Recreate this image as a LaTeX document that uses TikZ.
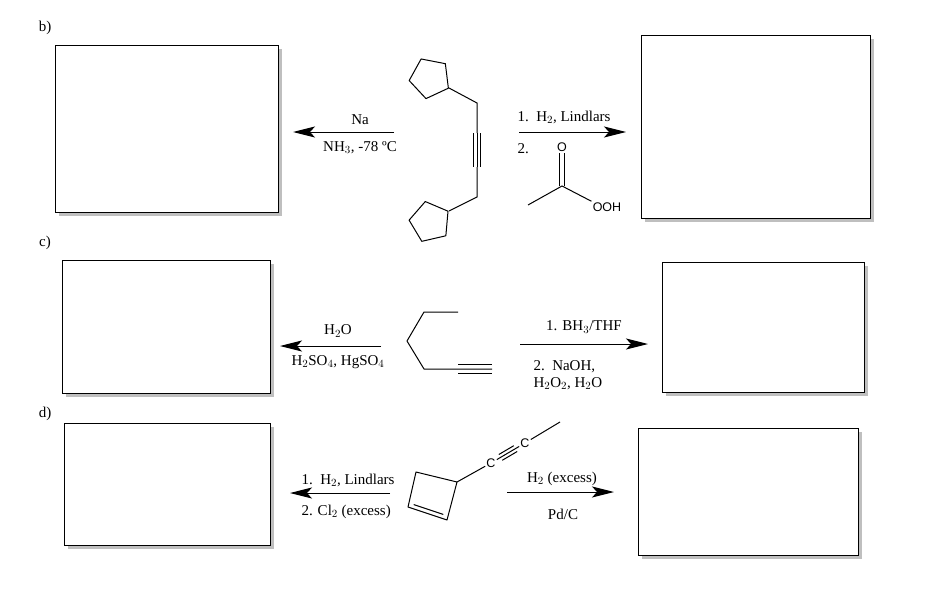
\documentclass[tikz,border=0pt]{standalone}
\usepackage{fontspec}
\setmainfont{Liberation Serif}
\newfontfamily\lsans{Liberation Sans}
\usetikzlibrary{arrows.meta,calc}
\begin{document}
\begin{tikzpicture}[x=1pt,y=-1pt,line width=1pt,
  box/.style={draw=black,fill=white,line width=0.9pt},
  rx/.style={-{Stealth[length=22pt,width=11pt,inset=5pt]},line width=1pt},
  lab/.style={font=\fontsize{15}{17}\selectfont,inner sep=1pt},
  atom/.style={font=\lsans\fontsize{12.5}{14}\selectfont,inner sep=0.8pt,fill=white}]
\useasboundingbox (0,0) rectangle (950,602);
\newcommand{\shbox}[5]{%
  \fill[black!25] (#1+4,#2+4) rectangle (#3+4,#4+4);
  \draw[box] (#1,#2) rectangle (#3,#4) node[pos=0.5,draw=none,fill=none] (#5) {};}
\node[lab] (lb) at (45,28) {b)};
\node[lab] (lc) at (45,243) {c)};
\node[lab] (ld) at (45,414) {d)};
\shbox{55}{45}{278}{212}{B1}
\shbox{641}{35}{870}{218}{B2}
\shbox{62}{260}{270}{393}{C1}
\shbox{662}{262}{864}{392}{C2}
\shbox{64}{423}{270}{545}{D1}
\shbox{638}{428}{858}{555}{D2}
% ---------- b
\coordinate (bl1) at (394,132); \coordinate (bl2) at (293,132);
\draw[rx] (bl1) -- (bl2);
\node[lab] (na) at (360,120) {Na};
\node[lab] (nh) at (360,148) {NH$_3$, -78 ºC};
\coordinate (br1) at (519,132); \coordinate (br2) at (626,132);
\draw[rx] (br1) -- (br2);
\node[lab,anchor=west] (h2) at (516,117) {1.\ \ H$_2$, Lindlars};
\node[lab,anchor=west] (t2) at (516,149) {2.};
\node[atom] (O1) at (562,147) {O};
\coordinate (CC) at (562,186); \coordinate (Me) at (528,205);
\node[atom] (OOH) at (607,207) {OOH};
\draw (Me) -- (CC) -- (OOH.north west);
\draw ([xshift=-2.2pt]CC) -- ([xshift=-2.2pt]O1.south);
\draw ([xshift=2.2pt]CC) -- ([xshift=2.2pt]O1.south);
\coordinate (c1) at (477,103); \coordinate (c2) at (477,133);
\coordinate (c3) at (477,167); \coordinate (c4) at (477,197);
\coordinate (r1) at (449,88); \coordinate (r2) at (449,211);
\draw (r1) -- (c1) -- (c2); \draw (c3) -- (c4) -- (r2);
\draw (c2) -- (c3);
\draw ([xshift=-3.5pt]c2) -- ([xshift=-3.5pt]c3);
\draw ([xshift=3.5pt]c2) -- ([xshift=3.5pt]c3);
\draw[shift={(430,78)},line join=round] (29:21) -- (101:21) -- (173:21) -- (245:21) -- (317:21) -- cycle;
\draw[shift={(430,222)},line join=round] (-31:21) -- (-103:21) -- (-175:21) -- (-247:21) -- (-319:21) -- cycle;
% ---------- c
\coordinate (cl1) at (381,346); \coordinate (cl2) at (280,346);
\draw[rx] (cl1) -- (cl2);
\node[lab] (w1) at (338,331) {H$_2$O};
\node[lab] (w2) at (338,362) {H$_2$SO$_4$, HgSO$_4$};
\coordinate (cr1) at (520,344); \coordinate (cr2) at (648,344);
\draw[rx] (cr1) -- (cr2);
\node[lab] (bh) at (584,327) {1. BH$_3$/THF};
\node[lab,anchor=west] (n1) at (532,367) {2.\ \ NaOH,};
\node[lab,anchor=west] (n2) at (532,384) {H$_2$O$_2$, H$_2$O};
\coordinate (z1) at (458,312); \coordinate (z2) at (424,312);
\coordinate (z3) at (407,341); \coordinate (z4) at (424,369);
\coordinate (z5) at (458,369); \coordinate (z6) at (492,369);
\draw[line join=round] (z1) -- (z2) -- (z3) -- (z4) -- (z5) -- (z6);
\draw ([yshift=-4.5pt]z5) -- ([yshift=-4.5pt]z6);
\draw ([yshift=4.5pt]z5) -- ([yshift=4.5pt]z6);
% ---------- d
\coordinate (dl1) at (390,493); \coordinate (dl2) at (290,493);
\draw[rx] (dl1) -- (dl2);
\node[lab,anchor=west] (l1) at (300,480) {1.\ \ H$_2$, Lindlars};
\node[lab,anchor=west] (l2) at (300,512) {2. Cl$_2$ (excess)};
\coordinate (dr1) at (507,492); \coordinate (dr2) at (614,492);
\node[lab] (hx) at (562,479) {H$_2$ (excess)};
\draw[rx] (dr1) -- (dr2);
\node[lab] (pd) at (563,514) {Pd/C};
\coordinate (q1) at (416,472); \coordinate (q2) at (457,482);
\coordinate (q3) at (447,520); \coordinate (q4) at (408,507);
\draw[line join=round] (q1) -- (q2) -- (q3) -- (q4) -- cycle;
\draw ($(q4)!0.12!(q3)+(1,-4)$) -- ($(q4)!0.88!(q3)+(1,-4)$);
\node[atom] (ca) at (491,463) {C};
\node[atom] (cb) at (525,443) {C};
\coordinate (me2) at (560,422);
\draw (q2) -- (ca); \draw (cb) -- (me2);
\draw (ca) -- (cb);
\draw ($(ca)!0.28!(cb)+(-1.7,-2.9)$) -- ($(ca)!0.72!(cb)+(-1.7,-2.9)$);
\draw ($(ca)!0.28!(cb)+(1.7,2.9)$) -- ($(ca)!0.72!(cb)+(1.7,2.9)$);
\end{tikzpicture}
\end{document}
